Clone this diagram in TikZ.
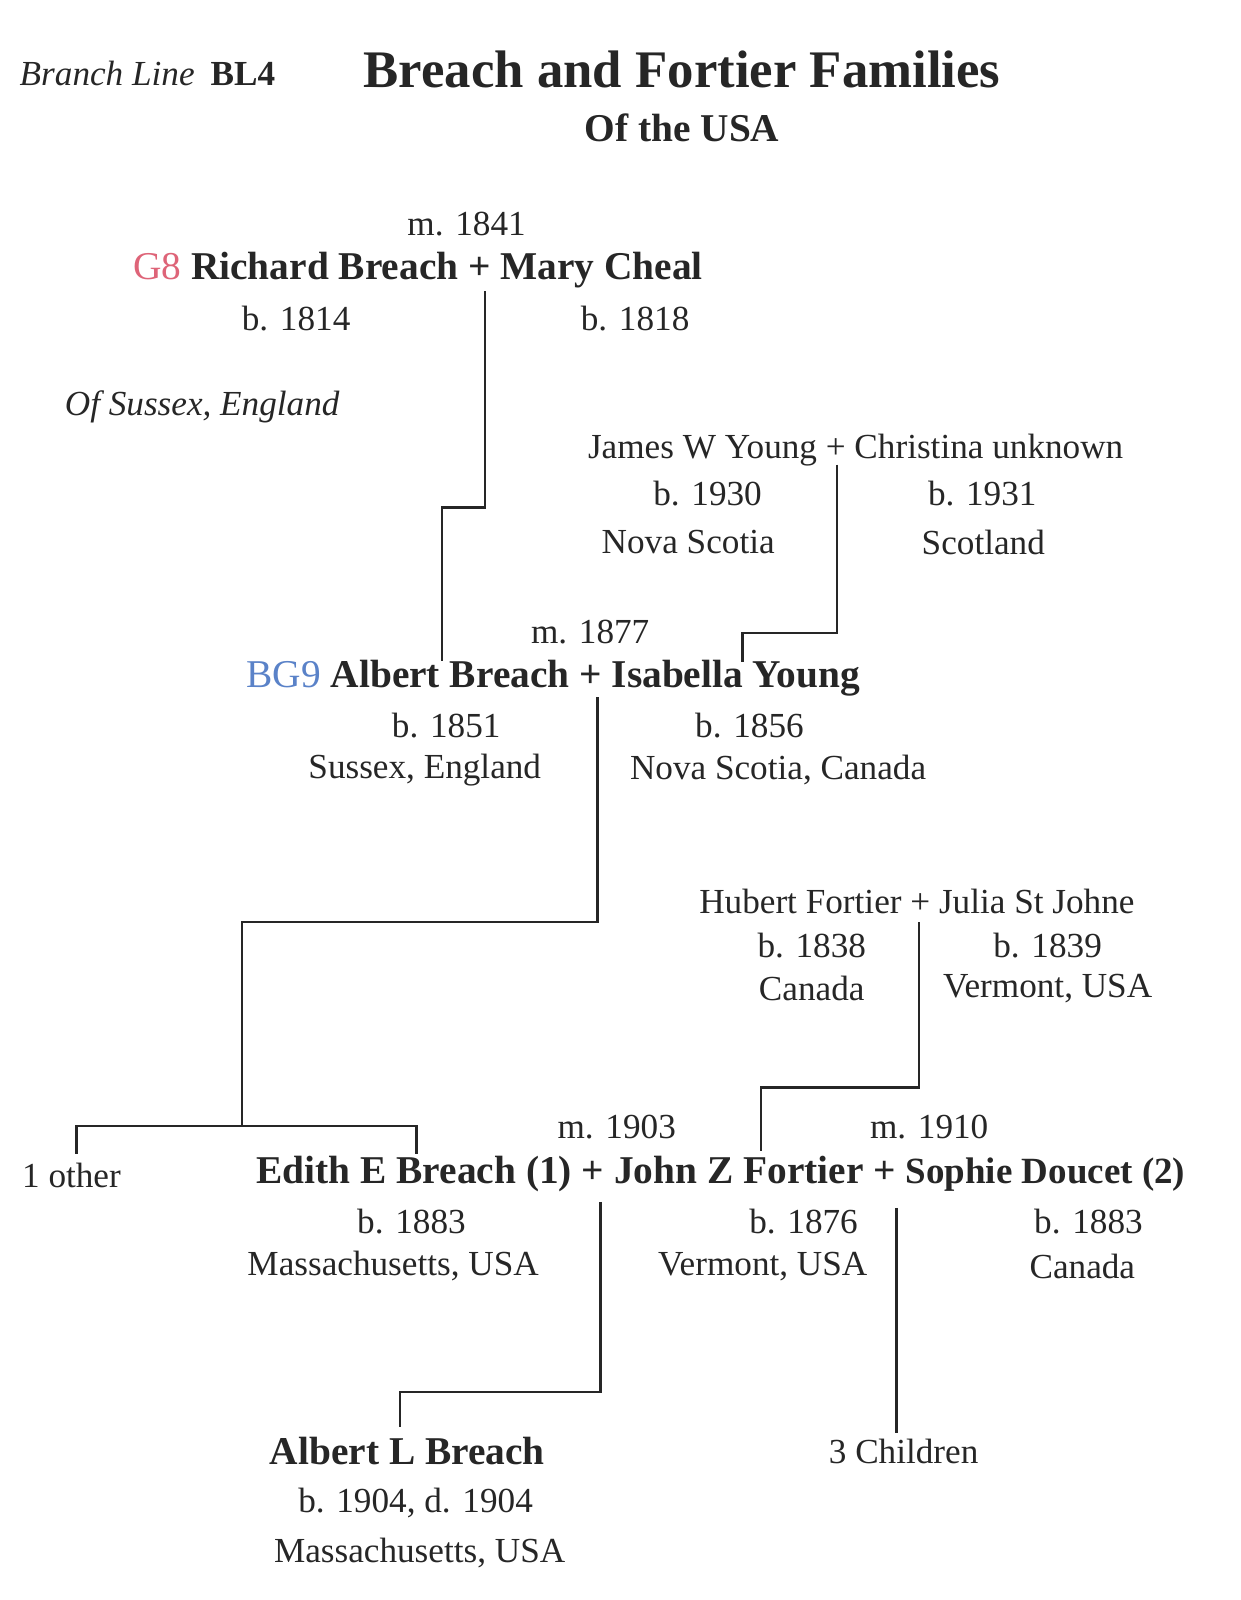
\documentclass[tikz,border=0pt]{standalone}
\usepackage{fontspec}
\setmainfont{Liberation Serif}
\definecolor{gpink}{RGB}{222,100,120}
\definecolor{gblue}{RGB}{90,130,200}
\begin{document}
\begin{tikzpicture}[x=0.5107pt,y=-0.5107pt,
  t/.style={inner sep=0pt,font=\fontsize{17.6}{19}\selectfont,text=black!85},
  nm/.style={inner sep=0pt,font=\fontsize{19.7}{21}\selectfont\bfseries,text=black!85},
  ln/.style={line width=1.2pt,black!85}]
\useasboundingbox (0,0) rectangle (1215,1567);
\node[t,font=\fontsize{17.6}{19}\selectfont\itshape] (bl) at (105,72) {Branch Line};
\node[t,font=\fontsize{17.6}{19}\selectfont\bfseries] (bl4) at (238,72) {BL4};
\node[nm,font=\fontsize{26.4}{28}\selectfont\bfseries] (title) at (668,68) {Breach and Fortier Families};
\node[nm] (sub) at (668,125) {Of the USA};
\node[t] (m1) at (457,219) {m. 1841};
\node[nm,anchor=west] (g8) at (130,265) {\textcolor{gpink}{\mdseries G8} Richard Breach + Mary Cheal};
\node[t] (b1) at (290,312) {b. 1814};
\node[t] (b2) at (622,312) {b. 1818};
\node[t,font=\fontsize{17.6}{19}\selectfont\itshape] (os) at (198,398) {Of Sussex, England};
\node[t] (jy) at (838,441) {James W Young + Christina unknown};
\node[t] (b3) at (693,483) {b. 1930};
\node[t] (b4) at (962,483) {b. 1931};
\node[t] (p3) at (674,531) {Nova Scotia};
\node[t] (p4) at (963,531) {Scotland};
\node[t] (m2) at (578,619) {m. 1877};
\node[nm,anchor=west] (bg9) at (241,664) {\textcolor{gblue}{\mdseries BG9} Albert Breach + Isabella Young};
\node[t] (b5) at (437,711) {b. 1851};
\node[t] (p5) at (416,754) {Sussex, England};
\node[t] (b6) at (734,711) {b. 1856};
\node[t] (p6) at (762,754) {Nova Scotia, Canada};
\node[t] (hf) at (898,883) {Hubert Fortier + Julia St Johne};
\node[t] (b7) at (795,926) {b. 1838};
\node[t] (p7) at (795,968) {Canada};
\node[t] (b8) at (1026,926) {b. 1839};
\node[t] (p8) at (1026,968) {Vermont, USA};
\node[t] (m3) at (604,1104) {m. 1903};
\node[t] (m4) at (910,1104) {m. 1910};
\node[t] (oth) at (70,1151) {1 other};
\node[nm] (ed) at (706,1150) {Edith E Breach (1) + John Z Fortier + \fontsize{18.5}{20}\selectfont Sophie Doucet (2)};
\node[t] (b9) at (403,1196) {b. 1883};
\node[t] (p9) at (385,1240) {Massachusetts, USA};
\node[t] (b10) at (787,1196) {b. 1876};
\node[t] (p10) at (747,1240) {Vermont, USA};
\node[t] (b11) at (1066,1196) {b. 1883};
\node[t] (p11) at (1060,1240) {Canada};
\node[nm] (al) at (399,1421) {Albert L Breach};
\node[t] (b12) at (407,1472) {b. 1904, d. 1904};
\node[t] (p12) at (411,1521) {Massachusetts, USA};
\node[t] (ch) at (885,1422) {3 Children};
\coordinate (c1) at (475,285); \coordinate (c1e) at (433,647);
\draw[ln] (c1) |- (433,497) -- (c1e);
\coordinate (c2) at (820,455); \coordinate (c2e) at (727,648);
\draw[ln] (c2) |- (727,620) -- (c2e);
\coordinate (c3) at (585,683);
\draw[ln] (c3) |- (237,903) -- (237,1103);
\coordinate (k1) at (75,1130); \coordinate (k2) at (408,1130);
\draw[ln] (k1) |- (408,1103) -- (k2);
\coordinate (c4) at (900,903); \coordinate (c4e) at (745,1127);
\draw[ln] (c4) |- (745,1065) -- (c4e);
\coordinate (c5) at (588,1177); \coordinate (c5e) at (392,1398);
\draw[ln] (c5) |- (392,1363) -- (c5e);
\coordinate (c6) at (878,1183); \coordinate (c6e) at (878,1403);
\draw[ln] (c6) -- (c6e);
\end{tikzpicture}
\end{document}
